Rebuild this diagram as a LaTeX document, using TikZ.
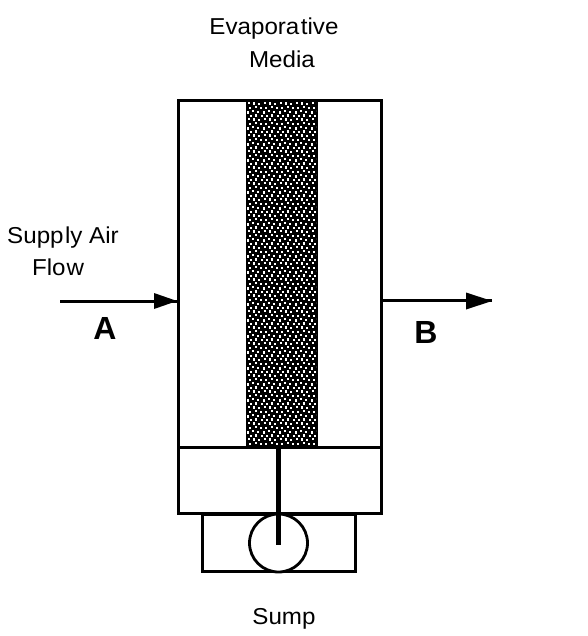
\documentclass[tikz,border=0pt]{standalone}
\usepackage{fontspec}
\setmainfont[FakeStretch=1.05]{Liberation Sans}
\newfontfamily\boldlabel{Liberation Sans Bold}
\begin{document}
\begin{tikzpicture}[x=1pt,y=-1pt,
  box/.style={draw=black,line width=3pt,fill=white,inner sep=0pt,outer sep=0pt,anchor=north west},
  lab/.style={inner sep=0pt,font=\fontsize{23}{25}\selectfont,text=black,anchor=base},
  big/.style={inner sep=0pt,font=\boldlabel\fontsize{32}{34}\selectfont,text=black},
  flow/.style={line width=3pt,black},
  tip/.style={fill=black,draw=none},
  speck/.style={fill=white,draw=none}]
\useasboundingbox (0,0) rectangle (587,636);
\fill[white] (0,0) rectangle (587,636);
% sump
\node[box,minimum width=153pt,minimum height=57.5pt] (sump) at (202.5,514) {};
\node[circle,draw=black,fill=white,line width=2.8pt,minimum size=58pt,inner sep=0pt,outer sep=0pt] (pump) at (278.5,543) {};
% housing
\node[box,minimum width=203pt,minimum height=346.5pt] (upper) at (178,100.5) {};
\node[box,minimum width=203pt,minimum height=66.5pt] (lower) at (178,447) {};
% media
\fill[black] (245.5,99) rectangle (317.5,447);
\begin{scope}
\clip (246,102) rectangle (316,445);
\foreach \r in {0,...,21}{
  \foreach \c in {0,...,4}{
    \pgfmathsetmacro{\ox}{247+16*\c}
    \pgfmathsetmacro{\oy}{102+16*\r}
    \begin{scope}[shift={(\ox,\oy)}]
      \fill[speck] (1,0) rectangle +(2,2.2);
      \fill[speck] (6,0) rectangle +(1.8,3.2);
      \fill[speck] (11,1) rectangle +(2,2.2);
      \fill[speck] (2,5) rectangle +(2.2,1.8);
      \fill[speck] (8,4) rectangle +(1.8,2.2);
      \fill[speck] (13,5) rectangle +(2.2,1.8);
      \fill[speck] (0,9) rectangle +(1.8,3.2);
      \fill[speck] (5,8) rectangle +(2.2,2.2);
      \fill[speck] (10,9) rectangle +(2.2,2.2);
      \fill[speck] (3,13) rectangle +(2.2,2.2);
      \fill[speck] (8,12) rectangle +(1.8,3.2);
      \fill[speck] (14,13) rectangle +(1.8,2.2);
    \end{scope}
  }
}
\end{scope}
\draw[black,line width=3pt] (178,100.5) -- (381,100.5);
\draw[black,line width=3pt] (178,447) -- (381,447);
% stem
\coordinate (stemtop) at (278.5,447);
\coordinate (stemend) at (278.5,545);
\draw[black,line width=4.5pt] (stemtop) -- (stemend);
% flows
\coordinate (inlet) at (60,301);
\coordinate (outlet) at (492,300.5);
\coordinate (inhit) at (upper.west|-inlet);
\coordinate (outhit) at (upper.east|-outlet);
\draw[flow] (inlet) -- (inhit);
\fill[tip] (177,301) -- (154,293) -- (154,309) -- cycle;
\draw[flow,line width=2.6pt] (outhit) -- (outlet);
\fill[tip] (492,301) -- (466,292.5) -- (466,309.5) -- cycle;
% labels
\node[lab] (evap) at (274,35) {Evapora\kern1.5pt tive};
\node[lab] (media) at (282,68) {Media};
\node[lab] (supply) at (63,243) {Supp\kern1.5pt ly Air};
\node[lab] (flowtxt) at (58,275) {Flo\kern1pt w};
\node[lab] (sumptxt) at (284,624) {Sump};
\node[big] (a) at (105,328) {A};
\node[big] (b) at (426,332) {B};
\end{tikzpicture}
\end{document}
